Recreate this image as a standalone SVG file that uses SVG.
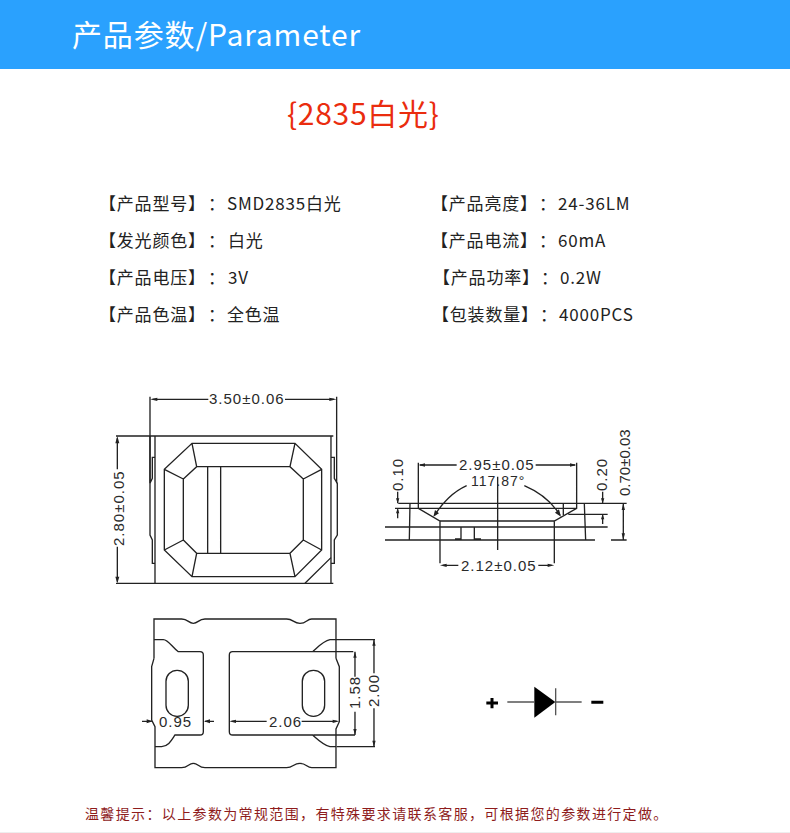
<svg xmlns="http://www.w3.org/2000/svg" width="790" height="833" viewBox="0 0 790 833">
<style>
text{font-family:"Noto Sans CJK SC","Noto Sans",sans-serif}
.p{font-size:17px;fill:#222;letter-spacing:.8px}
.d{font-family:"Liberation Sans",Arial,sans-serif;font-size:15px;fill:#2a2a2a;letter-spacing:1px}
.l{fill:none;stroke:#222;stroke-width:4}
.f{fill:#222;stroke:none}
</style>
<rect id="band" width="790" height="69" fill="#2aa1fe"/>
<rect id="foot" y="832" width="790" height="1" fill="#eee"/>
<text id="title" x="72" y="46" font-size="30" fill="#fff" letter-spacing=".85">产品参数/Parameter</text>
<text id="sub" x="287" y="125" font-size="30" letter-spacing=".7" fill="#ea2c0e">{2835白光}</text>
<g id="params">
<text class="p" x="99" y="210">【产品型号】</text><text class="p" x="208" y="210">：</text><text class="p" x="227" y="210">SMD2835白光</text>
<text class="p" x="99" y="247">【发光颜色】</text><text class="p" x="208" y="247">：</text><text class="p" x="228" y="247">白光</text>
<text class="p" x="99" y="284">【产品电压】</text><text class="p" x="208" y="284">：</text><text class="p" x="228" y="284">3V</text>
<text class="p" x="99" y="321">【产品色温】</text><text class="p" x="208" y="321">：</text><text class="p" x="227" y="321">全色温</text>
<text class="p" x="431" y="210">【产品亮度】</text><text class="p" x="539" y="210">：</text><text class="p" x="558" y="210">24-36LM</text>
<text class="p" x="431" y="247">【产品电流】</text><text class="p" x="539" y="247">：</text><text class="p" x="558" y="247">60mA</text>
<text class="p" x="433" y="284">【产品功率】</text><text class="p" x="541" y="284">：</text><text class="p" x="560" y="284">0.2W</text>
<text class="p" x="432" y="321">【包装数量】</text><text class="p" x="540" y="321">：</text><text class="p" x="559" y="321">4000PCS</text>
</g>
<g id="front-view">
<g transform="translate(100 380) scale(.3333)">
<path class="l" d="M150 50V310M710 50V310M158 58H325M555 58H702M48 168H700M48 610H700M165 168V610M693 168V610"/>
<path class="l" d="M52 175V268M52 500V605M150 310L157 295V232H165M165 550H157V480L150 465V168M693 232H703V295L712 310V465L703 480V550H693M615 610L693 533"/>
<path class="l" d="M276 190H585L665 268V510L585 590H276L193 510V268ZM290 260H570L610 297V480L570 520H290L250 480V297ZM276 190L290 260M585 190L570 260M665 268L610 297M665 510L610 480M585 590L570 520M276 590L290 520M193 510L250 480M193 268L250 297M323 260V520M362 260V520"/>
<path class="f" d="M150 58L172 53V63ZM710 58L688 53V63ZM52 168L46 190H58ZM52 610L46 590H58Z"/>
</g>
<text class="d" x="209" y="404">3.50±0.06</text>
<text class="d" transform="translate(124 546) rotate(-90)">2.80±0.05</text>
</g>
<g id="side-view">
<g transform="translate(375 420) scale(.3333)">
<path class="l" d="M130 128V250M605 128V250M135 135H245M482 135H600M70 250H755M130 250V265L195 303H538L605 265V250M60 265H605M30 321H698M30 360H660M708 360H755M105 250L103 360M610 250L628 250L632 360M565 250V285M580 283H698M195 303V430M538 303V430M204 436H250M490 436H530M240 357H258V321M318 357H298V321M368 170V390M180 285C200 250 235 215 275 197M555 285C530 245 490 215 448 197M68 215V250M68 268V295M683 215V250M683 285V312M745 250V360"/>
<path class="f" d="M130 135L150 130V140ZM605 135L585 130V140ZM68 250L63 235H73ZM68 265L63 280H73ZM683 250L678 235H688ZM683 283L678 298H688ZM745 250L740 270H750ZM745 360L740 340H750ZM195 436L215 431V441ZM538 436L518 431V441ZM175 290L180 270L192 280ZM558 290L540 278L552 268Z"/>
</g>
<text class="d" x="459" y="470">2.95±0.05</text>
<text class="d" x="471" y="486" style="font-size:14px">117.87°</text>
<text class="d" x="461" y="571">2.12±0.05</text>
<text class="d" transform="translate(403 491) rotate(-90)">0.10</text>
<text class="d" transform="translate(607 491) rotate(-90)">0.20</text>
<text class="d" transform="translate(630 496) rotate(-90)" style="letter-spacing:0">0.70±0.03</text>
</g>
<g id="bottom-view">
<g transform="translate(130 605) scale(.3333)">
<path class="l" d="M72 160V42H155C175 42 175 55 190 55C205 55 205 42 225 42H470C490 42 490 55 510 55C530 55 530 42 545 42H618V160M72 160L65 185V345L75 365V488H155C175 488 175 475 190 475C205 475 205 488 225 488H470C490 488 490 475 510 475C530 475 530 488 545 488H618V372L628 350V185L618 160"/>
<path class="l" d="M72 104H100C115 104 125 125 145 140H210Q220 140 220 150V380Q220 390 210 390H135C125 405 115 425 95 425H75M618 104H600C580 108 565 125 548 140H308Q298 140 298 150V380Q298 390 308 390H548C565 405 580 420 600 425H618M618 104H735M550 390H675M670 140H548M620 425H735"/>
<rect class="l" x="108" y="196" width="67" height="138" rx="33"/>
<rect class="l" x="517" y="196" width="67" height="138" rx="33"/>
<path class="l" d="M36 349H65M225 349H252M305 349H410M515 349H620M675 140V215M675 320V390M732 104V205M732 310V425"/>
<path class="f" d="M68 349L50 343V355ZM222 349L240 343V355ZM298 349L318 344V354ZM628 349L608 344V354ZM675 140L670 158H680ZM675 390L670 372H680ZM732 104L727 122H737ZM732 425L727 407H737Z"/>
</g>
<text class="d" x="159" y="727">0.95</text>
<text class="d" x="269" y="727">2.06</text>
<text class="d" transform="translate(360 709) rotate(-90)">1.58</text>
<text class="d" transform="translate(379 707) rotate(-90)">2.00</text>
</g>
<g id="diode">
<g transform="translate(470 670) scale(.3333)">
<path d="M112 96H192M258 96H335M257 55V136" fill="none" stroke="#555" stroke-width="4"/>
<path d="M193 50L256 96L193 143Z" fill="#000"/>
<path d="M49 99H84M66 84V115M364 97H400" fill="none" stroke="#000" stroke-width="9"/>
</g>
</g>
<text id="note" x="85" y="819" font-size="14" letter-spacing="1.36" fill="#8e1c1c">温馨提示：以上参数为常规范围，有特殊要求请联系客服，可根据您的参数进行定做。</text>
</svg>
